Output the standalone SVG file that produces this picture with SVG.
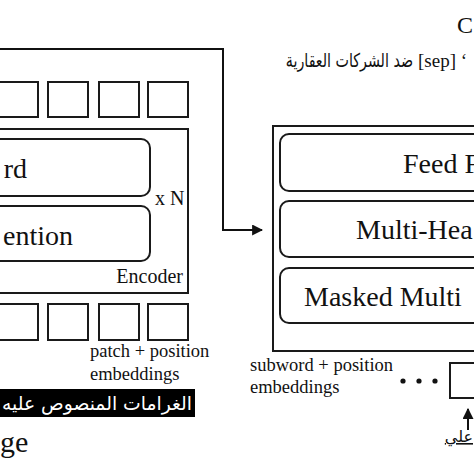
<svg xmlns="http://www.w3.org/2000/svg" width="474" height="474" viewBox="0 0 474 474">
<style>
.box{fill:none;stroke:#1a1a1a;stroke-width:2}
.rbox{fill:none;stroke:#1a1a1a;stroke-width:2}
.t{font-family:"Liberation Serif","Times New Roman",serif;fill:#111}
.big{font-size:28px}
.mid{font-size:20px}
.sm{font-size:18.5px}
.ar{font-family:"DejaVu Sans","Noto Sans",sans-serif}
.conn{fill:none;stroke:#111;stroke-width:2}
</style>
<defs>
<marker id="ah" viewBox="0 0 10 10" refX="9" refY="5" markerWidth="5.5" markerHeight="5.5" orient="auto" markerUnits="strokeWidth">
<path d="M0,0 L10,5 L0,10 z" fill="#111"/>
</marker>
</defs>
<rect width="474" height="474" fill="#fff"/>

<g id="title">
<text class="t" x="457" y="33" font-size="24">C</text>
<text class="ar" transform="translate(413,67) scale(0.75,1)" x="0" y="0" font-size="19" fill="#111" text-anchor="end">ضد الشركات العقارية</text>
<text class="t" x="418" y="67" font-size="19">[sep] ‘</text>
</g>

<g id="top-patches">
<rect class="box" x="-2" y="82" width="40" height="35"/>
<rect class="box" x="48" y="82" width="40" height="35"/>
<rect class="box" x="99" y="82" width="40" height="35"/>
<rect class="box" x="148" y="82" width="40" height="35"/>
</g>

<g id="encoder">
<rect class="box" x="-10" y="129" width="198" height="164"/>
<text class="t mid" x="183" y="283" text-anchor="end">Encoder</text>
<text class="t mid" x="155" y="205">x N</text>
</g>
<g id="enc-ff">
<rect class="rbox" x="-20" y="139" width="170" height="57" rx="9"/>
<text class="t big" x="27" y="178" text-anchor="end">rd</text>
</g>
<g id="enc-att">
<rect class="rbox" x="-20" y="206" width="170" height="55" rx="9"/>
<text class="t big" x="73" y="245" text-anchor="end">ention</text>
</g>

<g id="bottom-patches">
<rect class="box" x="-2" y="304" width="40" height="36"/>
<rect class="box" x="48" y="304" width="40" height="36"/>
<rect class="box" x="99" y="304" width="40" height="36"/>
<rect class="box" x="148" y="304" width="40" height="36"/>
<text class="t sm" x="90" y="357">patch + position</text>
<text class="t sm" x="90" y="380">embeddings</text>
</g>

<g id="input-label">
<rect x="0" y="389" width="195" height="28" fill="#000"/>
<text class="ar" x="2" y="410" font-size="19" fill="#fff" textLength="190" lengthAdjust="spacingAndGlyphs">الغرامات المنصوص عليه</text>
<text class="t" x="0" y="452" font-size="30">ge</text>
</g>

<g id="decoder">
<rect class="box" x="273" y="126" width="220" height="225"/>
</g>
<g id="dec-ff">
<rect class="rbox" x="280" y="134" width="220" height="57" rx="9"/>
<text class="t big" x="403" y="173">Feed F</text>
</g>
<g id="dec-cross">
<rect class="rbox" x="280" y="201" width="220" height="56" rx="9"/>
<text class="t big" x="356" y="239">Multi-Hea</text>
</g>
<g id="dec-masked">
<rect class="rbox" x="280" y="268" width="220" height="55" rx="9"/>
<text class="t big" x="304" y="306">Masked Multi</text>
</g>

<g id="dec-input">
<text class="t sm" x="250" y="371">subword + position</text>
<text class="t sm" x="250" y="393">embeddings</text>
<circle cx="403" cy="381" r="2.6" fill="#111"/>
<circle cx="419" cy="381" r="2.6" fill="#111"/>
<circle cx="435" cy="381" r="2.6" fill="#111"/>
<rect class="box" x="450" y="363" width="40" height="35"/>
<text class="ar" x="473" y="442" font-size="16" fill="#111" text-anchor="end" text-decoration="underline">علي</text>
</g>

<g id="connectors">
<path class="conn" d="M-5,49 H223 V230 H262" marker-end="url(#ah)"/>
<path class="conn" d="M468,430 V409" marker-end="url(#ah)"/>
</g>
</svg>
